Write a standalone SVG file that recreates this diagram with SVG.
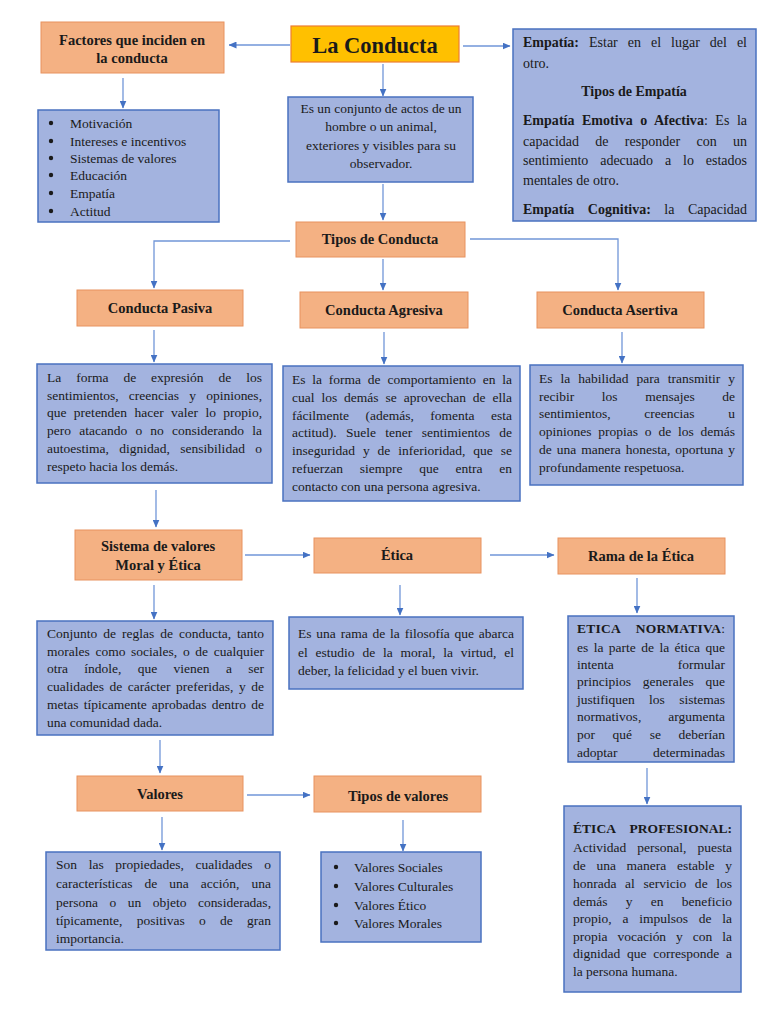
<svg xmlns="http://www.w3.org/2000/svg" width="768" height="1024" viewBox="0 0 768 1024">
<defs>
<style>
.h{font-family:"Liberation Serif","Times New Roman",serif;font-weight:bold;font-size:14.5px;fill:#1a1a1a;text-anchor:middle}
.t{font-family:"Liberation Serif","Times New Roman",serif;font-size:13.5px;fill:#1a1a1a}
.e{font-size:14px}
.b{font-weight:bold}
.m{text-anchor:middle}
.hb{fill:#f4b183;stroke:#e8925f;stroke-width:1}
.bb{fill:#a3b3df;stroke:#4a72c0;stroke-width:1.5}
.c{fill:none;stroke:#7196d8;stroke-width:1.3;marker-end:url(#ah)}
</style>
<marker id="ah" markerUnits="userSpaceOnUse" markerWidth="8" markerHeight="7" refX="7.5" refY="3.5" orient="auto">
<path d="M0,0 L8,3.5 L0,7 z" fill="#4472c4"/>
</marker>
<clipPath id="clipN"><rect x="568" y="616" width="166" height="145"/></clipPath>
</defs>
<rect width="768" height="1024" fill="#ffffff"/>

<g id="connectors">
<path class="c" d="M290,45 H229"/>
<path class="c" d="M463,46 H510"/>
<path class="c" d="M383,64 V96"/>
<path class="c" d="M123,78 V108"/>
<path class="c" d="M383,184 V220"/>
<path class="c" d="M290,241 H154 V288"/>
<path class="c" d="M383,259 V290"/>
<path class="c" d="M470,239 H618 V290"/>
<path class="c" d="M154,330 V362"/>
<path class="c" d="M384,332 V364"/>
<path class="c" d="M622,332 V363"/>
<path class="c" d="M156,490 V527"/>
<path class="c" d="M245,555 H310"/>
<path class="c" d="M490,555 H554"/>
<path class="c" d="M154,585 V619"/>
<path class="c" d="M400,585 V615"/>
<path class="c" d="M637,578 V613"/>
<path class="c" d="M160,740 V773"/>
<path class="c" d="M247,795 H310"/>
<path class="c" d="M162,817 V850"/>
<path class="c" d="M403,820 V851"/>
<path class="c" d="M647,768 V804"/>
</g>

<g id="factores">
<rect class="hb" x="41" y="22" width="183" height="51"/>
<text class="h" x="132" y="45">Factores que inciden en</text>
<text class="h" x="132" y="63">la conducta</text>
</g>

<g id="factores-lista">
<rect class="bb" x="38" y="110" width="181" height="112"/>
<g fill="#1a1a1a">
<circle cx="51" cy="123" r="2.2"/><circle cx="51" cy="141" r="2.2"/><circle cx="51" cy="158" r="2.2"/>
<circle cx="51" cy="175" r="2.2"/><circle cx="51" cy="193" r="2.2"/><circle cx="51" cy="211" r="2.2"/>
</g>
<text class="t" x="70" y="127.5">Motivación</text>
<text class="t" x="70" y="145.5">Intereses e incentivos</text>
<text class="t" x="70" y="162.5">Sistemas de valores</text>
<text class="t" x="70" y="179.5">Educación</text>
<text class="t" x="70" y="197.5">Empatía</text>
<text class="t" x="70" y="215.5">Actitud</text>
</g>

<g id="la-conducta">
<rect x="291" y="26" width="168" height="36" fill="#ffc000" stroke="#ed7d31" stroke-width="1.2"/>
<text class="h" x="375" y="53" style="font-size:22.5px">La Conducta</text>
</g>

<g id="definicion">
<rect class="bb" x="288" y="97" width="185" height="85"/>
<text class="t m" x="381" y="112.5">Es un conjunto de actos de un</text>
<text class="t m" x="381" y="130.5">hombre o un animal,</text>
<text class="t m" x="381" y="149.5">exteriores y visibles para su</text>
<text class="t m" x="381" y="167.5">observador.</text>
</g>

<g id="empatia">
<rect class="bb" x="513" y="29" width="243" height="192"/>
<text class="t e" x="523" y="47" style="word-spacing:6.5px" textLength="224" lengthAdjust="spacing"><tspan class="b">Empatía:</tspan> Estar en el lugar del el</text>
<text class="t e" x="523" y="68">otro.</text>
<text class="h" x="634" y="96" style="font-size:14px">Tipos de Empatía</text>
<text class="t e" x="523" y="125" style="word-spacing:4px" textLength="224" lengthAdjust="spacing"><tspan class="b">Empatía Emotiva o Afectiva</tspan>: Es la</text>
<text class="t e" x="523" y="146" style="word-spacing:12.8px" textLength="224" lengthAdjust="spacing">capacidad de responder con un</text>
<text class="t e" x="523" y="165" style="word-spacing:8.4px" textLength="224" lengthAdjust="spacing">sentimiento adecuado a lo estados</text>
<text class="t e" x="523" y="185">mentales de otro.</text>
<text class="t e" x="523" y="214" style="word-spacing:10px" textLength="224" lengthAdjust="spacing"><tspan class="b">Empatía Cognitiva:</tspan> la Capacidad</text>
</g>

<g id="tipos-conducta">
<rect class="hb" x="296" y="222" width="169" height="35"/>
<text class="h" x="380" y="244">Tipos de Conducta</text>
</g>

<g id="conducta-pasiva">
<rect class="hb" x="77" y="290" width="166" height="36"/>
<text class="h" x="160" y="313">Conducta Pasiva</text>
</g>
<g id="conducta-agresiva">
<rect class="hb" x="300" y="292" width="168" height="36"/>
<text class="h" x="384" y="315">Conducta Agresiva</text>
</g>
<g id="conducta-asertiva">
<rect class="hb" x="537" y="292" width="167" height="36"/>
<text class="h" x="620" y="315">Conducta Asertiva</text>
</g>

<g id="pasiva-desc">
<rect class="bb" x="37" y="364" width="235" height="119"/>
<text class="t" x="47" y="381.5" style="word-spacing:11.6px" textLength="215" lengthAdjust="spacing">La forma de expresión de los</text>
<text class="t" x="47" y="399.5" style="word-spacing:6.8px" textLength="215" lengthAdjust="spacing">sentimientos, creencias y opiniones,</text>
<text class="t" x="47" y="416.5" style="word-spacing:4px" textLength="215" lengthAdjust="spacing">que pretenden hacer valer lo propio,</text>
<text class="t" x="47" y="434.5" style="word-spacing:4.8px" textLength="215" lengthAdjust="spacing">pero atacando o no considerando la</text>
<text class="t" x="47" y="452.5" style="word-spacing:7px" textLength="215" lengthAdjust="spacing">autoestima, dignidad, sensibilidad o</text>
<text class="t" x="47" y="470.5">respeto hacia los demás.</text>
</g>

<g id="agresiva-desc">
<rect class="bb" x="283" y="366" width="237" height="135"/>
<text class="t" x="292" y="383.5" style="word-spacing:3.4px" textLength="220" lengthAdjust="spacing">Es la forma de comportamiento en la</text>
<text class="t" x="292" y="401.5" style="word-spacing:3.5px" textLength="220" lengthAdjust="spacing">cual los demás se aprovechan de ella</text>
<text class="t" x="292" y="419.5" style="word-spacing:13.1px" textLength="220" lengthAdjust="spacing">fácilmente (además, fomenta esta</text>
<text class="t" x="292" y="436.5" style="word-spacing:6px" textLength="220" lengthAdjust="spacing">actitud). Suele tener sentimientos de</text>
<text class="t" x="292" y="454.5" style="word-spacing:4.6px" textLength="220" lengthAdjust="spacing">inseguridad y de inferioridad, que se</text>
<text class="t" x="292" y="472.5" style="word-spacing:13.4px" textLength="220" lengthAdjust="spacing">refuerzan siempre que entra en</text>
<text class="t" x="292" y="490.5">contacto con una persona agresiva.</text>
</g>

<g id="asertiva-desc">
<rect class="bb" x="530" y="365" width="213" height="120"/>
<text class="t" x="539" y="382.5" style="word-spacing:4.6px" textLength="196" lengthAdjust="spacing">Es la habilidad para transmitir y</text>
<text class="t" x="539" y="400.5" style="word-spacing:24.2px" textLength="196" lengthAdjust="spacing">recibir los mensajes de</text>
<text class="t" x="539" y="417.5" style="word-spacing:30.3px" textLength="196" lengthAdjust="spacing">sentimientos, creencias u</text>
<text class="t" x="539" y="435.5" style="word-spacing:3.4px" textLength="196" lengthAdjust="spacing">opiniones propias o de los demás</text>
<text class="t" x="539" y="453.5" style="word-spacing:1.6px" textLength="196" lengthAdjust="spacing">de una manera honesta, oportuna y</text>
<text class="t" x="539" y="471.5">profundamente respetuosa.</text>
</g>

<g id="sistema-valores">
<rect class="hb" x="75" y="530" width="167" height="50"/>
<text class="h" x="158" y="551">Sistema de valores</text>
<text class="h" x="158" y="570">Moral y Ética</text>
</g>
<g id="etica">
<rect class="hb" x="314" y="538" width="167" height="35"/>
<text class="h" x="397" y="560">Ética</text>
</g>
<g id="rama-etica">
<rect class="hb" x="558" y="538" width="167" height="36"/>
<text class="h" x="641" y="561">Rama de la Ética</text>
</g>

<g id="sistema-desc">
<rect class="bb" x="37" y="621" width="236" height="114"/>
<text class="t" x="47" y="637.5" style="word-spacing:2.6px" textLength="217" lengthAdjust="spacing">Conjunto de reglas de conducta, tanto</text>
<text class="t" x="47" y="655.5" style="word-spacing:2.3px" textLength="217" lengthAdjust="spacing">morales como sociales, o de cualquier</text>
<text class="t" x="47" y="672.5" style="word-spacing:13px" textLength="217" lengthAdjust="spacing">otra índole, que vienen a ser</text>
<text class="t" x="47" y="690.5" style="word-spacing:2.2px" textLength="217" lengthAdjust="spacing">cualidades de carácter preferidas, y de</text>
<text class="t" x="47" y="708.5" style="word-spacing:1.8px" textLength="217" lengthAdjust="spacing">metas típicamente aprobadas dentro de</text>
<text class="t" x="47" y="726.5">una comunidad dada.</text>
</g>

<g id="etica-desc">
<rect class="bb" x="289" y="617" width="234" height="72"/>
<text class="t" x="298" y="637.5" style="word-spacing:1.5px" textLength="216" lengthAdjust="spacing">Es una rama de la filosofía que abarca</text>
<text class="t" x="298" y="656.5" style="word-spacing:4.4px" textLength="216" lengthAdjust="spacing">el estudio de la moral, la virtud, el</text>
<text class="t" x="298" y="674.5">deber, la felicidad y el buen vivir.</text>
</g>

<g id="etica-normativa">
<rect class="bb" x="568" y="616" width="166" height="146"/>
<g clip-path="url(#clipN)">
<text class="t" x="577" y="632.5" style="word-spacing:11.9px" textLength="148" lengthAdjust="spacing"><tspan class="b">ETICA NORMATIVA</tspan>:</text>
<text class="t" x="577" y="651.5" style="word-spacing:2px" textLength="148" lengthAdjust="spacing">es la parte de la ética que</text>
<text class="t" x="577" y="668.5" style="word-spacing:60.6px" textLength="148" lengthAdjust="spacing">intenta formular</text>
<text class="t" x="577" y="685.5" style="word-spacing:8.4px" textLength="148" lengthAdjust="spacing">principios generales que</text>
<text class="t" x="577" y="703.5" style="word-spacing:11px" textLength="148" lengthAdjust="spacing">justifiquen los sistemas</text>
<text class="t" x="577" y="720.5" style="word-spacing:23.5px" textLength="148" lengthAdjust="spacing">normativos, argumenta</text>
<text class="t" x="577" y="738.5" style="word-spacing:14.2px" textLength="148" lengthAdjust="spacing">por qué se deberían</text>
<text class="t" x="577" y="756.5" style="word-spacing:32.2px" textLength="148" lengthAdjust="spacing">adoptar determinadas</text>
</g>
</g>

<g id="etica-profesional">
<rect class="bb" x="564" y="806" width="177" height="186"/>
<text class="t b" x="573" y="832.5" style="word-spacing:10.9px" textLength="159" lengthAdjust="spacing">ÉTICA PROFESIONAL:</text>
<text class="t" x="573" y="851.5" style="word-spacing:7.7px" textLength="159" lengthAdjust="spacing">Actividad personal, puesta</text>
<text class="t" x="573" y="869.5" style="word-spacing:7.3px" textLength="159" lengthAdjust="spacing">de una manera estable y</text>
<text class="t" x="573" y="887.5" style="word-spacing:5.2px" textLength="159" lengthAdjust="spacing">honrada al servicio de los</text>
<text class="t" x="573" y="905.5" style="word-spacing:14.9px" textLength="159" lengthAdjust="spacing">demás y en beneficio</text>
<text class="t" x="573" y="922.5" style="word-spacing:7.4px" textLength="159" lengthAdjust="spacing">propio, a impulsos de la</text>
<text class="t" x="573" y="940.5" style="word-spacing:6.6px" textLength="159" lengthAdjust="spacing">propia vocación y con la</text>
<text class="t" x="573" y="957.5" style="word-spacing:3.4px" textLength="159" lengthAdjust="spacing">dignidad que corresponde a</text>
<text class="t" x="573" y="975.5">la persona humana.</text>
</g>

<g id="valores">
<rect class="hb" x="77" y="776" width="166" height="35"/>
<text class="h" x="160" y="799">Valores</text>
</g>
<g id="tipos-valores">
<rect class="hb" x="314" y="776" width="167" height="36"/>
<text class="h" x="398" y="801">Tipos de valores</text>
</g>

<g id="valores-desc">
<rect class="bb" x="46" y="852" width="234" height="98"/>
<text class="t" x="56" y="868.5" style="word-spacing:8.3px" textLength="215" lengthAdjust="spacing">Son las propiedades, cualidades o</text>
<text class="t" x="56" y="887.5" style="word-spacing:8.7px" textLength="215" lengthAdjust="spacing">características de una acción, una</text>
<text class="t" x="56" y="906.5" style="word-spacing:8.1px" textLength="215" lengthAdjust="spacing">persona o un objeto consideradas,</text>
<text class="t" x="56" y="924.5" style="word-spacing:10.9px" textLength="215" lengthAdjust="spacing">típicamente, positivas o de gran</text>
<text class="t" x="56" y="942.5">importancia.</text>
</g>

<g id="tipos-valores-lista">
<rect class="bb" x="321" y="852" width="160" height="90"/>
<g fill="#1a1a1a">
<circle cx="336" cy="867" r="2.2"/><circle cx="336" cy="886" r="2.2"/><circle cx="336" cy="905" r="2.2"/><circle cx="336" cy="923" r="2.2"/>
</g>
<text class="t" x="354" y="871.5">Valores Sociales</text>
<text class="t" x="354" y="890.5">Valores Culturales</text>
<text class="t" x="354" y="909.5">Valores Ético</text>
<text class="t" x="354" y="927.5">Valores Morales</text>
</g>
</svg>
